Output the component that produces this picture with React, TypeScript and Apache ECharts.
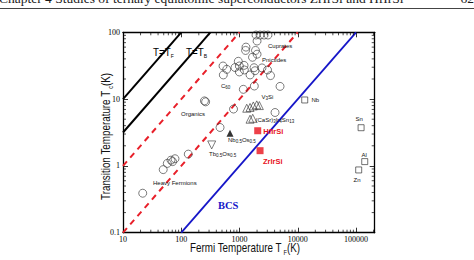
import React, { useEffect, useRef } from 'react';
import * as echarts from 'echarts';

const X_MIN = 10;
const X_MAX = 209000;
const Y_MIN = 0.1;
const Y_MAX = 100;

const xDecades = [10, 100, 1000, 10000, 100000];
const yDecades = [0.1, 1, 10];

const cupratePoints = [[1920, 91], [2250, 91], [2640, 91], [3080, 91], [2000, 74], [1290, 60], [1270, 53.5], [1880, 53.5], [2000, 47], [1670, 42.3]];
const pnictidePoints = [[953, 36.8], [521, 31.3], [603, 27.9], [527, 23], [837, 29.7], [993, 31.3], [1195, 32], [993, 25.5], [1210, 27.3], [1515, 23], [1775, 29.5], [1845, 26.6], [2430, 29.3], [3025, 27.3], [3405, 22.5], [4960, 15.5], [1795, 15.7], [1162, 14]];
const otherCircles = [[250, 9.4], [262, 9.1], [789, 7.1], [4070, 6.3], [463, 3.76], [132, 1.5]];
const heavyFermionPoints = [[21.8, 0.39], [49, 0.88], [57.6, 1.09], [66.7, 1.22], [71, 1.16], [78, 1.28]];
const a15Triangles = [[1330, 7.3], [1515, 7.5], [1725, 7.9], [1975, 8.2], [2188, 8.0]];
const caSrTriangles = [[1515, 5.0], [1685, 5.16]];
const nbOsPoint = [[687, 3.07]];
const tbOsPoint = [[333, 2.06]];
const elementSquares = [[13160, 9.7], [122000, 3.73], [141000, 1.16], [111000, 0.87]];
const hfIrSiPoint = [[2052, 3.36]];
const zrIrSiPoint = [[2250, 1.69]];

const lineTF = [[10, 10], [100, 100]];
const lineTB = [[10, 3.16], [316, 100]];
const lineRed1 = [[10, 1], [1000, 100]];
const lineRed2 = [[10, 0.1], [10000, 100]];
const lineBCS = [[100, 0.1], [100000, 100]];

const SANS = 'Liberation Sans';
const SERIF = 'Liberation Serif';

function isDecade(v: number) {
  const l = Math.log10(v);
  return Math.abs(l - Math.round(l)) < 1e-6;
}

function smallRich(size: number, sub: number, color = '#111', weight = 'normal') {
  return {
    n: { fontSize: size, fontFamily: SANS, fill: color, fontWeight: weight, lineHeight: size + 2 },
    s: { fontSize: sub, fontFamily: SANS, fill: color, fontWeight: weight, lineHeight: sub, verticalAlign: 'bottom' },
  };
}

function label(x: number, y: number, text: string, rich: any, extra: any = {}) {
  return {
    type: 'text',
    x,
    y,
    z: 20,
    silent: true,
    ...extra,
    style: { text, rich, align: 'left', verticalAlign: 'middle' },
  };
}

export default function App() {
  const ref = useRef<HTMLDivElement>(null);
  useEffect(() => {
    if (!ref.current) return;
    const chart = echarts.init(ref.current, undefined, { renderer: 'svg' });

    const xMinor: number[] = [];
    xDecades.forEach((d) => {
      for (let k = 2; k <= 9; k++) if (d * k < X_MAX) xMinor.push(d * k);
    });
    const yMinor: number[] = [];
    yDecades.forEach((d) => {
      for (let k = 2; k <= 9; k++) yMinor.push(+(d * k).toPrecision(3));
    });

    const axisLabel = (showLabel: boolean) => ({
      show: showLabel,
      margin: 3,
      fontFamily: SERIF,
      fontSize: 8,
      color: '#000',
      formatter: (v: number) => (isDecade(v) ? String(v) : ''),
    });
    const mkX = (pos: 'bottom' | 'top', showLabel: boolean) => ({
      type: 'log',
      logBase: 10,
      min: X_MIN,
      max: X_MAX,
      position: pos,
      axisLine: { show: true, onZero: false, lineStyle: { color: '#000', width: 1.3 } },
      axisTick: { show: true, inside: true, length: 5, lineStyle: { color: '#000', width: 0.8 } },
      axisLabel: axisLabel(showLabel),
      splitLine: { show: false },
      minorTick: { show: false },
    });
    const mkY = (pos: 'left' | 'right', showLabel: boolean) => ({
      type: 'log',
      logBase: 10,
      min: Y_MIN,
      max: Y_MAX,
      position: pos,
      axisLine: { show: true, onZero: false, lineStyle: { color: '#000', width: 1.3 } },
      axisTick: { show: true, inside: true, length: 5, lineStyle: { color: '#000', width: 0.8 } },
      axisLabel: axisLabel(showLabel),
      splitLine: { show: false },
      minorTick: { show: false },
    });

    const lineS = (data: number[][], color: string, width: number, type: any) => ({
      type: 'line',
      data,
      symbol: 'none',
      silent: true,
      z: 2,
      lineStyle: { color, width, type },
    });
    const scat = (data: number[][], symbol: string, size: number, item: any, extra: any = {}) => ({
      type: 'scatter',
      data,
      symbol,
      symbolSize: size,
      silent: true,
      z: 5,
      itemStyle: item,
      ...extra,
    });
    const openItem = { color: 'rgba(0,0,0,0)', borderColor: '#333', borderWidth: 0.8 };

    const rich6 = smallRich(6, 4.5);
    const richT = {
      n: { fontSize: 11.5, fontFamily: SANS, fill: '#000', lineHeight: 14 },
      s: { fontSize: 6, fontFamily: SANS, fill: '#000', lineHeight: 6, verticalAlign: 'bottom' },
    };
    const richAxis = {
      n: { fontSize: 12, fontFamily: SANS, fill: '#111', lineHeight: 15 },
      s: { fontSize: 7, fontFamily: SANS, fill: '#111', lineHeight: 7, verticalAlign: 'bottom' },
    };

    chart.setOption({
      animation: false,
      grid: { left: 123, top: 32.3, right: 99.3, bottom: 27.3, containLabel: false, outerBoundsMode: 'none' },
      xAxis: [mkX('bottom', true), mkX('top', false)],
      yAxis: [mkY('left', true), mkY('right', false)],
      series: [
        lineS(lineTF, '#000', 2, 'solid'),
        lineS(lineTB, '#000', 2, 'solid'),
        lineS(lineRed1, '#e8202a', 2, [6, 5]),
        lineS(lineRed2, '#e8202a', 2, [6, 5]),
        lineS(lineBCS, '#1616c8', 1.8, 'solid'),
        scat(cupratePoints, 'circle', 8, openItem),
        scat(pnictidePoints, 'circle', 8, openItem),
        scat(otherCircles, 'circle', 8, openItem),
        scat(heavyFermionPoints, 'circle', 8, openItem),
        scat(a15Triangles, 'triangle', 8, openItem),
        scat(caSrTriangles, 'triangle', 8, openItem),
        scat(nbOsPoint, 'triangle', 7, { color: '#000' }),
        scat(tbOsPoint, 'triangle', 8, openItem, { symbolRotate: 180 }),
        scat(elementSquares, 'rect', 6, { color: 'rgba(0,0,0,0)', borderColor: '#222', borderWidth: 0.8 }),
        scat(hfIrSiPoint, 'rect', 7, { color: '#e8121c' }),
        scat(zrIrSiPoint, 'rect', 7, { color: '#e8121c' }),
        {
          type: 'custom',
          coordinateSystem: 'cartesian2d',
          clip: false,
          silent: true,
          z: 10,
          data: xMinor.map((v) => [v, 1]),
          renderItem: (_p: any, api: any) => {
            const v = api.value(0);
            const b = api.coord([v, Y_MIN]);
            const t = api.coord([v, Y_MAX]);
            const st = { stroke: '#000', lineWidth: 0.7 };
            return {
              type: 'group',
              children: [
                { type: 'line', shape: { x1: b[0], y1: b[1], x2: b[0], y2: b[1] - 3 }, style: st },
                { type: 'line', shape: { x1: t[0], y1: t[1], x2: t[0], y2: t[1] + 3 }, style: st },
              ],
            };
          },
        },
        {
          type: 'custom',
          coordinateSystem: 'cartesian2d',
          clip: false,
          silent: true,
          z: 10,
          data: yMinor.map((v) => [100, v]),
          renderItem: (_p: any, api: any) => {
            const v = api.value(1);
            const l = api.coord([X_MIN, v]);
            const r = api.coord([X_MAX, v]);
            const st = { stroke: '#000', lineWidth: 0.7 };
            return {
              type: 'group',
              children: [
                { type: 'line', shape: { x1: l[0], y1: l[1], x2: l[0] + 3, y2: l[1] }, style: st },
                { type: 'line', shape: { x1: r[0], y1: r[1], x2: r[0] - 3, y2: r[1] }, style: st },
              ],
            };
          },
        },
      ],
      graphic: [
        {
          type: 'text',
          x: -1,
          y: 5.5,
          silent: true,
          style: {
            text: 'Chapter 4 Studies of ternary equiatomic superconductors ZrIrSi and HfIrSi',
            font: `13.5px '${SERIF}'`,
            fill: '#1a1a1a',
            align: 'left',
            verticalAlign: 'bottom',
          },
        },
        {
          type: 'text',
          x: 474,
          y: 5.5,
          silent: true,
          style: { text: '62', font: `13.5px '${SERIF}'`, fill: '#1a1a1a', align: 'right', verticalAlign: 'bottom' },
        },
        { type: 'line', silent: true, shape: { x1: 0, y1: 8.5, x2: 474, y2: 8.5 }, style: { stroke: '#444', lineWidth: 1 } },
        label(153, 52, '{n|T=T}{s|F}', richT, { scaleX: 0.85 }),
        label(186, 52, '{n|T=T}{s|B}', richT, { scaleX: 0.85 }),
        label(268, 45.5, '{n|Cuprates}', rich6),
        label(262, 60.3, '{n|Pnictides}', rich6),
        label(221, 86, '{n|C}{s|60}', rich6),
        label(261.5, 96.5, '{n|V}{s|3}{n|Si}', rich6),
        label(255.5, 119.5, '{n|(CaSr)}{s|3}{n|Ir}{s|4}{n|Sn}{s|13}', rich6),
        label(311.5, 99.5, '{n|Nb}', rich6),
        label(355.5, 118.5, '{n|Sn}', rich6),
        label(361.5, 155, '{n|Al}', rich6),
        label(353.5, 179.5, '{n|Zn}', rich6),
        label(181, 114, '{n|Organics}', rich6),
        label(228, 139.5, '{n|Nb}{s|0.5}{n|Os}{s|0.5}', rich6),
        label(209, 153.5, '{n|Tb}{s|0.5}{n|Os}{s|0.5}', rich6),
        label(153, 183, '{n|Heavy Fermions}', rich6),
        label(263.3, 131, '{n|HfIrSi}', { n: { fontSize: 7.5, fontFamily: SANS, fontWeight: 'bold', fill: '#e8121c' } }),
        label(263, 161, '{n|ZrIrSi}', { n: { fontSize: 7.5, fontFamily: SANS, fontWeight: 'bold', fill: '#e8121c' } }),
        label(218, 205, '{n|BCS}', { n: { fontSize: 10.5, fontFamily: SERIF, fontWeight: 'bold', fill: '#1616c8' } }),
        label(190, 248, '{n|Fermi Temperature T}{s| F}{n|(K)}', richAxis, { scaleX: 0.82 }),
        label(106, 200, '{n|Transition Temperature T}{s| c}{n|(K)}', richAxis, { scaleX: 0.82, rotation: Math.PI / 2 }),
      ],
    } as any);
    return () => chart.dispose();
  }, []);
  return (
    <div
      ref={ref}
      style={{ position: 'absolute', left: 0, top: 0, width: 474, height: 260, background: '#fff' }}
    />
  );
}
